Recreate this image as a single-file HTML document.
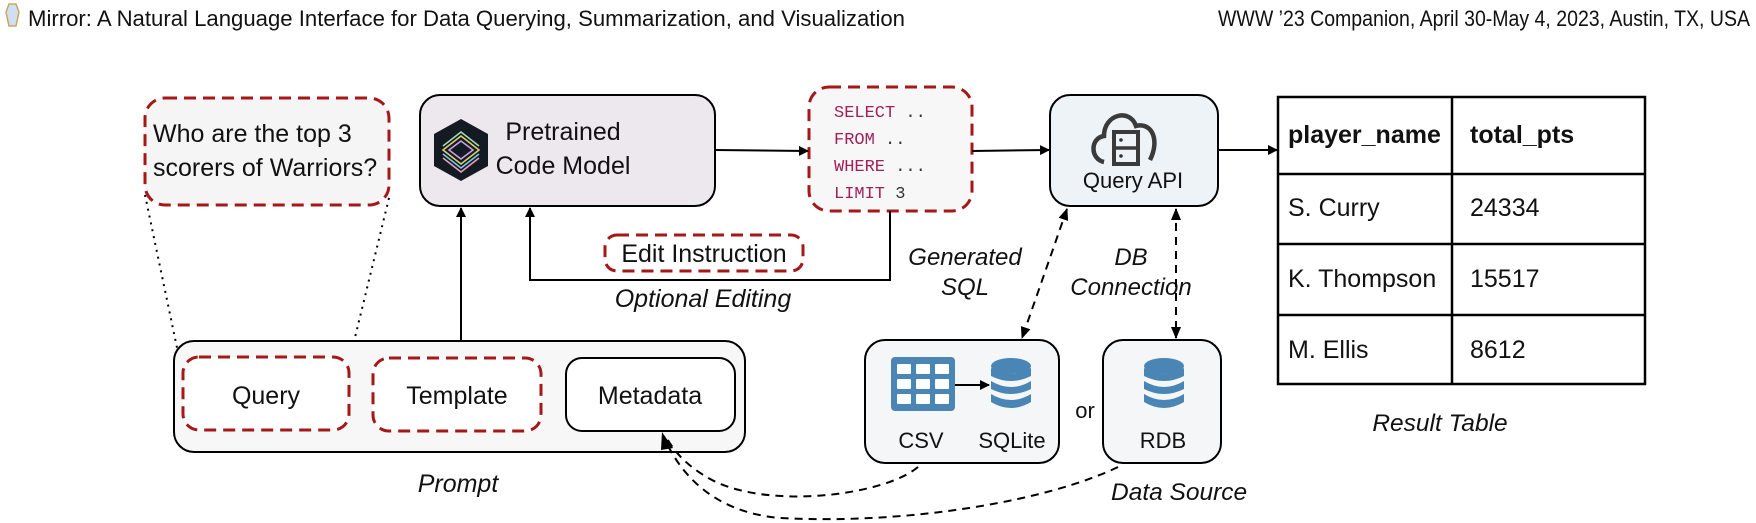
<!DOCTYPE html>
<html><head><meta charset="utf-8"><style>
html,body{margin:0;padding:0;background:#fff;}
svg{display:block;}
.s{font-family:"Liberation Sans",Arial,sans-serif;}
.hd{font-family:"Liberation Sans",sans-serif;font-size:22px;fill:#111;}
</style></head><body>
<svg width="1756" height="523" viewBox="0 0 1756 523" xmlns="http://www.w3.org/2000/svg">
<defs>
<marker id="ah" markerWidth="10" markerHeight="10" refX="9" refY="5" orient="auto" markerUnits="userSpaceOnUse" viewBox="0 0 10 10">
<path d="M0,0 L10,5 L0,10 z" fill="#000"/></marker>
<marker id="ahb" markerWidth="12" markerHeight="12" refX="11" refY="6" orient="auto-start-reverse" markerUnits="userSpaceOnUse" viewBox="0 0 12 12">
<path d="M0,1 L12,6 L0,11 z" fill="#000"/></marker>
</defs>
<!-- header -->
<path d="M9,4 L16,4 L19,12 L16,26 L9,26 L6,12 z" fill="#cfe0f2" stroke="#c8a860" stroke-width="1.5"/>
<text x="28" y="26" class="hd" textLength="877" lengthAdjust="spacingAndGlyphs">Mirror: A Natural Language Interface for Data Querying, Summarization, and Visualization</text>
<text x="1218" y="26" class="hd" textLength="532" lengthAdjust="spacingAndGlyphs">WWW ’23 Companion, April 30-May 4, 2023, Austin, TX, USA</text>

<g class="s">
<!-- dotted lines -->
<line x1="145" y1="195" x2="180" y2="362" stroke="#000" stroke-width="2" stroke-dasharray="2,5"/>
<line x1="389" y1="198" x2="349" y2="362" stroke="#000" stroke-width="2" stroke-dasharray="2,5"/>
<!-- question box -->
<rect x="145" y="98" width="244" height="107" rx="20" fill="#f5f5f5" stroke="#a51818" stroke-width="3" stroke-dasharray="12,7"/>
<text x="153" y="142" font-size="25" fill="#111">Who are the top 3</text>
<text x="153" y="176" font-size="25" fill="#111">scorers of Warriors?</text>

<!-- Pretrained -->
<rect x="420" y="95" width="295" height="111" rx="20" fill="#ede7ee" stroke="#000" stroke-width="2"/>
<g transform="translate(461,150)">
<path d="M0,-31 L27,-16 L27,16 L0,31 L-27,16 L-27,-16 z" fill="#141a22"/>
<g fill="none" stroke-width="1.6">
<path d="M-18,-4 L0,-18 L18,-4" stroke="#9fd8b0"/>
<path d="M-18,0 L0,-14 L18,0 L0,14 z" stroke="#d8d070"/>
<path d="M-12,0 L0,-9 L12,0 L0,9 z" stroke="#c8a0e0"/>
<path d="M-18,4 L0,18 L18,4" stroke="#7ec8e0"/>
<path d="M-18,8 L0,22 L18,8" stroke="#e8a0c0"/>
</g></g>
<text x="563" y="140" font-size="25" fill="#111" text-anchor="middle">Pretrained</text>
<text x="563" y="174" font-size="25" fill="#111" text-anchor="middle">Code Model</text>

<!-- SQL box -->
<rect x="809" y="87" width="163" height="124" rx="20" fill="#f7f7f7" stroke="#a51818" stroke-width="3" stroke-dasharray="12,7"/>
<g font-family="'Liberation Mono',monospace" font-size="17">
<text x="834" y="117"><tspan fill="#a0205a">SELECT</tspan><tspan fill="#333"> ..</tspan></text>
<text x="834" y="144"><tspan fill="#a0205a">FROM</tspan><tspan fill="#333"> ..</tspan></text>
<text x="834" y="171"><tspan fill="#a0205a">WHERE</tspan><tspan fill="#333"> ...</tspan></text>
<text x="834" y="198"><tspan fill="#a0205a">LIMIT</tspan><tspan fill="#333"> 3</tspan></text>
</g>

<!-- arrows top row -->
<line x1="715" y1="150" x2="808" y2="151" stroke="#000" stroke-width="2" marker-end="url(#ah)"/>
<line x1="972" y1="151" x2="1049" y2="150" stroke="#000" stroke-width="2" marker-end="url(#ah)"/>
<line x1="1218" y1="150" x2="1277" y2="150" stroke="#000" stroke-width="2" marker-end="url(#ah)"/>

<!-- Query API -->
<rect x="1050" y="95" width="168" height="111" rx="20" fill="#eef3f8" stroke="#000" stroke-width="2"/>
<g transform="translate(1126,142)" fill="none" stroke="#3a3a3a" stroke-width="4.5">
<path d="M-22,20 C-36,17 -36,-4 -22,-6 C-22,-28 4,-34 10,-16 C26,-20 34,-2 24,18"/>
<rect x="-12" y="-10" width="24" height="32" fill="#eef3f8" stroke-width="4"/>
<line x1="-12" y1="6" x2="12" y2="6" stroke-width="3.5"/>
</g>
<circle cx="1121" cy="140" r="1.8" fill="#333"/><circle cx="1121" cy="156" r="1.8" fill="#333"/>
<text x="1133" y="188" font-size="22" fill="#111" text-anchor="middle">Query API</text>

<!-- table -->
<rect x="1278" y="97" width="367" height="287" fill="#fff" stroke="#000" stroke-width="2.5"/>
<line x1="1452" y1="97" x2="1452" y2="384" stroke="#000" stroke-width="2.5"/>
<line x1="1278" y1="174" x2="1645" y2="174" stroke="#000" stroke-width="2.5"/>
<line x1="1278" y1="244" x2="1645" y2="244" stroke="#000" stroke-width="2.5"/>
<line x1="1278" y1="315" x2="1645" y2="315" stroke="#000" stroke-width="2.5"/>
<g font-size="25" fill="#111">
<text x="1288" y="143" font-weight="bold">player_name</text>
<text x="1470" y="143" font-weight="bold">total_pts</text>
<text x="1288" y="216">S. Curry</text><text x="1470" y="216">24334</text>
<text x="1288" y="287">K. Thompson</text><text x="1470" y="287">15517</text>
<text x="1288" y="358">M. Ellis</text><text x="1470" y="358">8612</text>
</g>
<text x="1440" y="431" font-size="24.5" font-style="italic" fill="#111" text-anchor="middle">Result Table</text>

<!-- edit loop -->
<polyline points="890,211 890,280 530,280 530,208" fill="none" stroke="#000" stroke-width="2" marker-end="url(#ah)"/>
<rect x="605" y="235" width="198" height="36" rx="12" fill="#fff" stroke="#a51818" stroke-width="3" stroke-dasharray="12,7"/>
<text x="704" y="262" font-size="25" fill="#111" text-anchor="middle">Edit Instruction</text>
<text x="703" y="307" font-size="25" font-style="italic" fill="#111" text-anchor="middle">Optional Editing</text>
<text x="965" y="265" font-size="24" font-style="italic" fill="#111" text-anchor="middle">Generated</text>
<text x="965" y="295" font-size="24" font-style="italic" fill="#111" text-anchor="middle">SQL</text>
<text x="1131" y="265" font-size="24" font-style="italic" fill="#111" text-anchor="middle">DB</text>
<text x="1131" y="295" font-size="24" font-style="italic" fill="#111" text-anchor="middle">Connection</text>

<!-- prompt arrow -->
<line x1="461" y1="341" x2="461" y2="208" stroke="#000" stroke-width="2" marker-end="url(#ah)"/>

<!-- prompt box -->
<rect x="174" y="341" width="571" height="111" rx="20" fill="#f7f7f7" stroke="#000" stroke-width="2"/>
<rect x="183" y="357" width="166" height="73" rx="16" fill="#fff" stroke="#a51818" stroke-width="3" stroke-dasharray="12,7"/>
<rect x="373" y="358" width="168" height="73" rx="16" fill="#fff" stroke="#a51818" stroke-width="3" stroke-dasharray="12,7"/>
<rect x="566" y="358" width="169" height="73" rx="16" fill="#fff" stroke="#000" stroke-width="2"/>
<text x="266" y="404" font-size="25" fill="#111" text-anchor="middle">Query</text>
<text x="457" y="404" font-size="25" fill="#111" text-anchor="middle">Template</text>
<text x="650" y="404" font-size="25" fill="#111" text-anchor="middle">Metadata</text>
<text x="458" y="492" font-size="25" font-style="italic" fill="#111" text-anchor="middle">Prompt</text>

<!-- db dashed arrows -->
<line x1="1067" y1="209" x2="1022" y2="338" stroke="#000" stroke-width="2" stroke-dasharray="8,6" marker-start="url(#ahb)" marker-end="url(#ahb)"/>
<line x1="1176" y1="209" x2="1176" y2="338" stroke="#000" stroke-width="2" stroke-dasharray="8,6" marker-start="url(#ahb)" marker-end="url(#ahb)"/>

<!-- data sources -->
<rect x="865" y="340" width="194" height="123" rx="20" fill="#f5f6f8" stroke="#000" stroke-width="2"/>
<rect x="1103" y="340" width="118" height="123" rx="20" fill="#f5f6f8" stroke="#000" stroke-width="2"/>
<rect x="891" y="357" width="64" height="54" rx="4" fill="#4a86b5"/>
<g fill="#fff">
<rect x="897" y="364" width="14" height="10" rx="1"/><rect x="916" y="364" width="14" height="10" rx="1"/><rect x="935" y="364" width="14" height="10" rx="1"/>
<rect x="897" y="379" width="14" height="10" rx="1"/><rect x="916" y="379" width="14" height="10" rx="1"/><rect x="935" y="379" width="14" height="10" rx="1"/>
<rect x="897" y="394" width="14" height="10" rx="1"/><rect x="916" y="394" width="14" height="10" rx="1"/><rect x="935" y="394" width="14" height="10" rx="1"/>
</g>
<line x1="955" y1="385" x2="989" y2="385" stroke="#000" stroke-width="2" marker-end="url(#ah)"/>
<g id="cyl" fill="#4a86b5">
<ellipse cx="1011" cy="366" rx="20" ry="8"/>
<path d="M991,368 Q1011,380 1031,368 L1031,376 Q1011,386 991,376 z"/>
<path d="M991,381 Q1011,393 1031,381 L1031,389 Q1011,399 991,389 z"/>
<path d="M991,394 Q1011,406 1031,394 L1031,402 Q1011,414 991,402 z"/>
</g>
<use href="#cyl" x="153" y="0"/>
<text x="921" y="448" font-size="22" fill="#111" text-anchor="middle">CSV</text>
<text x="1012" y="448" font-size="22" fill="#111" text-anchor="middle">SQLite</text>
<text x="1163" y="448" font-size="22" fill="#111" text-anchor="middle">RDB</text>
<text x="1085" y="418" font-size="22" fill="#111" text-anchor="middle">or</text>
<text x="1111" y="500" font-size="24.5" font-style="italic" fill="#111">Data Source</text>

<!-- curves -->
<path d="M918,467 C885,495 770,510 712,480 C684,465 672,448 665,435" fill="none" stroke="#000" stroke-width="2" stroke-dasharray="8,6"/>
<path d="M1118,467 C1050,500 910,525 780,518 C710,512 678,470 664,437" fill="none" stroke="#000" stroke-width="2" stroke-dasharray="8,6"/>
<path d="M662,432 L673,448 L661,450 z" fill="#000"/>
</g>
</svg>
</body></html>
